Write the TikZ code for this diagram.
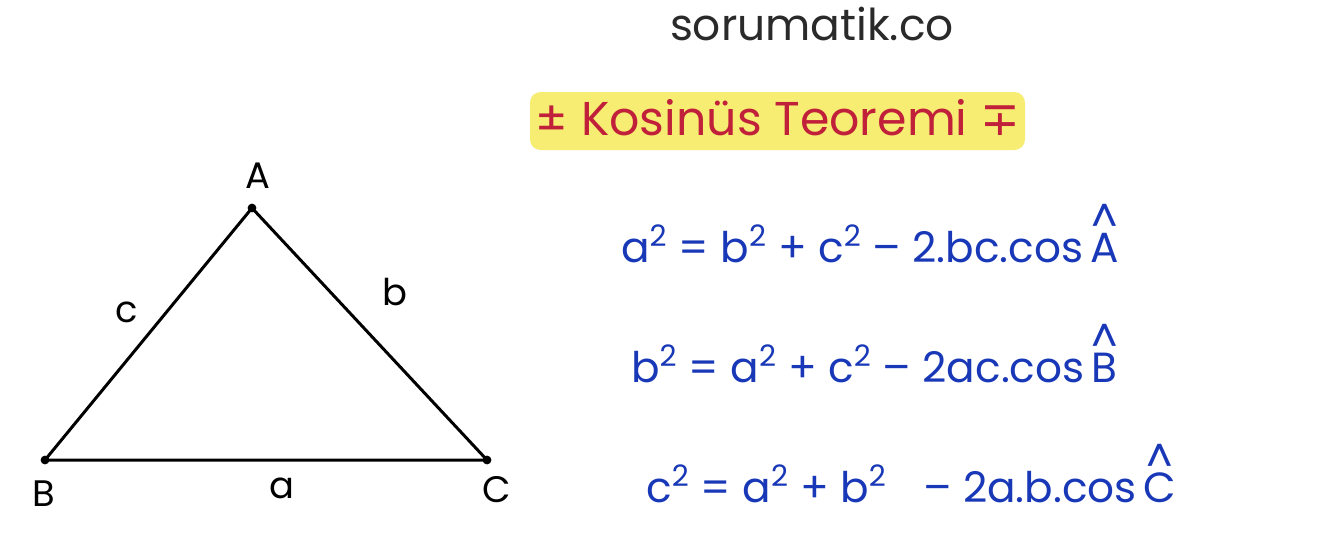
\documentclass[tikz,border=0pt]{standalone}
\usepackage{fontspec}
\setmainfont{Poppins}
\newfontfamily\symfont{DejaVu Sans}
\definecolor{penblue}{HTML}{1838B8}
\definecolor{penred}{HTML}{C0203A}
\definecolor{marker}{HTML}{F6EA5A}
\definecolor{ink}{HTML}{2A2A2A}
\newcommand\hatover[1]{\ooalign{#1\cr\hidewidth\raisebox{0.68em}{\^{}}\hidewidth\cr}}
\tikzset{
  side/.style={line width=1.7pt, line join=round, line cap=round},
  vlabel/.style={font=\fontsize{21}{24}\selectfont},
  formula/.style={text=penblue, font=\fontsize{24}{30}\selectfont, anchor=west}
}
\begin{document}
\begin{tikzpicture}[x=0.02cm,y=-0.02cm]
\useasboundingbox[fill=white] (0,0) rectangle (1330,532);
\node[text=ink, font=\fontsize{25}{30}\selectfont] (site) at (812,24) {sorumatik.co};
\fill[marker, opacity=0.85, rounded corners=6pt] (530,92) rectangle (1025,150);
\node[text=penred, font=\fontsize{27}{32}\selectfont] (title) at (778,118) {± Kosinüs Teoremi {\symfont ∓}};
\coordinate (A) at (252,208);
\coordinate (B) at (45,460);
\coordinate (C) at (487,460);
\draw[side] (A) -- (B) -- (C) -- cycle;
\foreach \v in {A,B,C}
  \fill (\v) circle (2.5pt);
\node[vlabel] (lA) at (258,176) {A};
\node[vlabel] (lB) at (44,494) {B};
\node[vlabel] (lC) at (497,490) {C};
\node[vlabel] (lc) at (127,312) {c};
\node[vlabel] (lb) at (395,292) {b};
\node[vlabel] (la) at (282,488) {a};
\node[formula] (eqa) at (615,244) {a\textsuperscript{2} = b\textsuperscript{2} + c\textsuperscript{2} – 2.bc.cos\,\hatover{A}};
\node[formula] (eqb) at (625,364) {b\textsuperscript{2} = a\textsuperscript{2} + c\textsuperscript{2} – 2ac.cos\,\hatover{B}};
\node[formula] (eqc) at (640,484) {c\textsuperscript{2} = a\textsuperscript{2} + b\textsuperscript{2} \,\, – 2a.b.cos\,\hatover{C}};
\end{tikzpicture}
\end{document}
